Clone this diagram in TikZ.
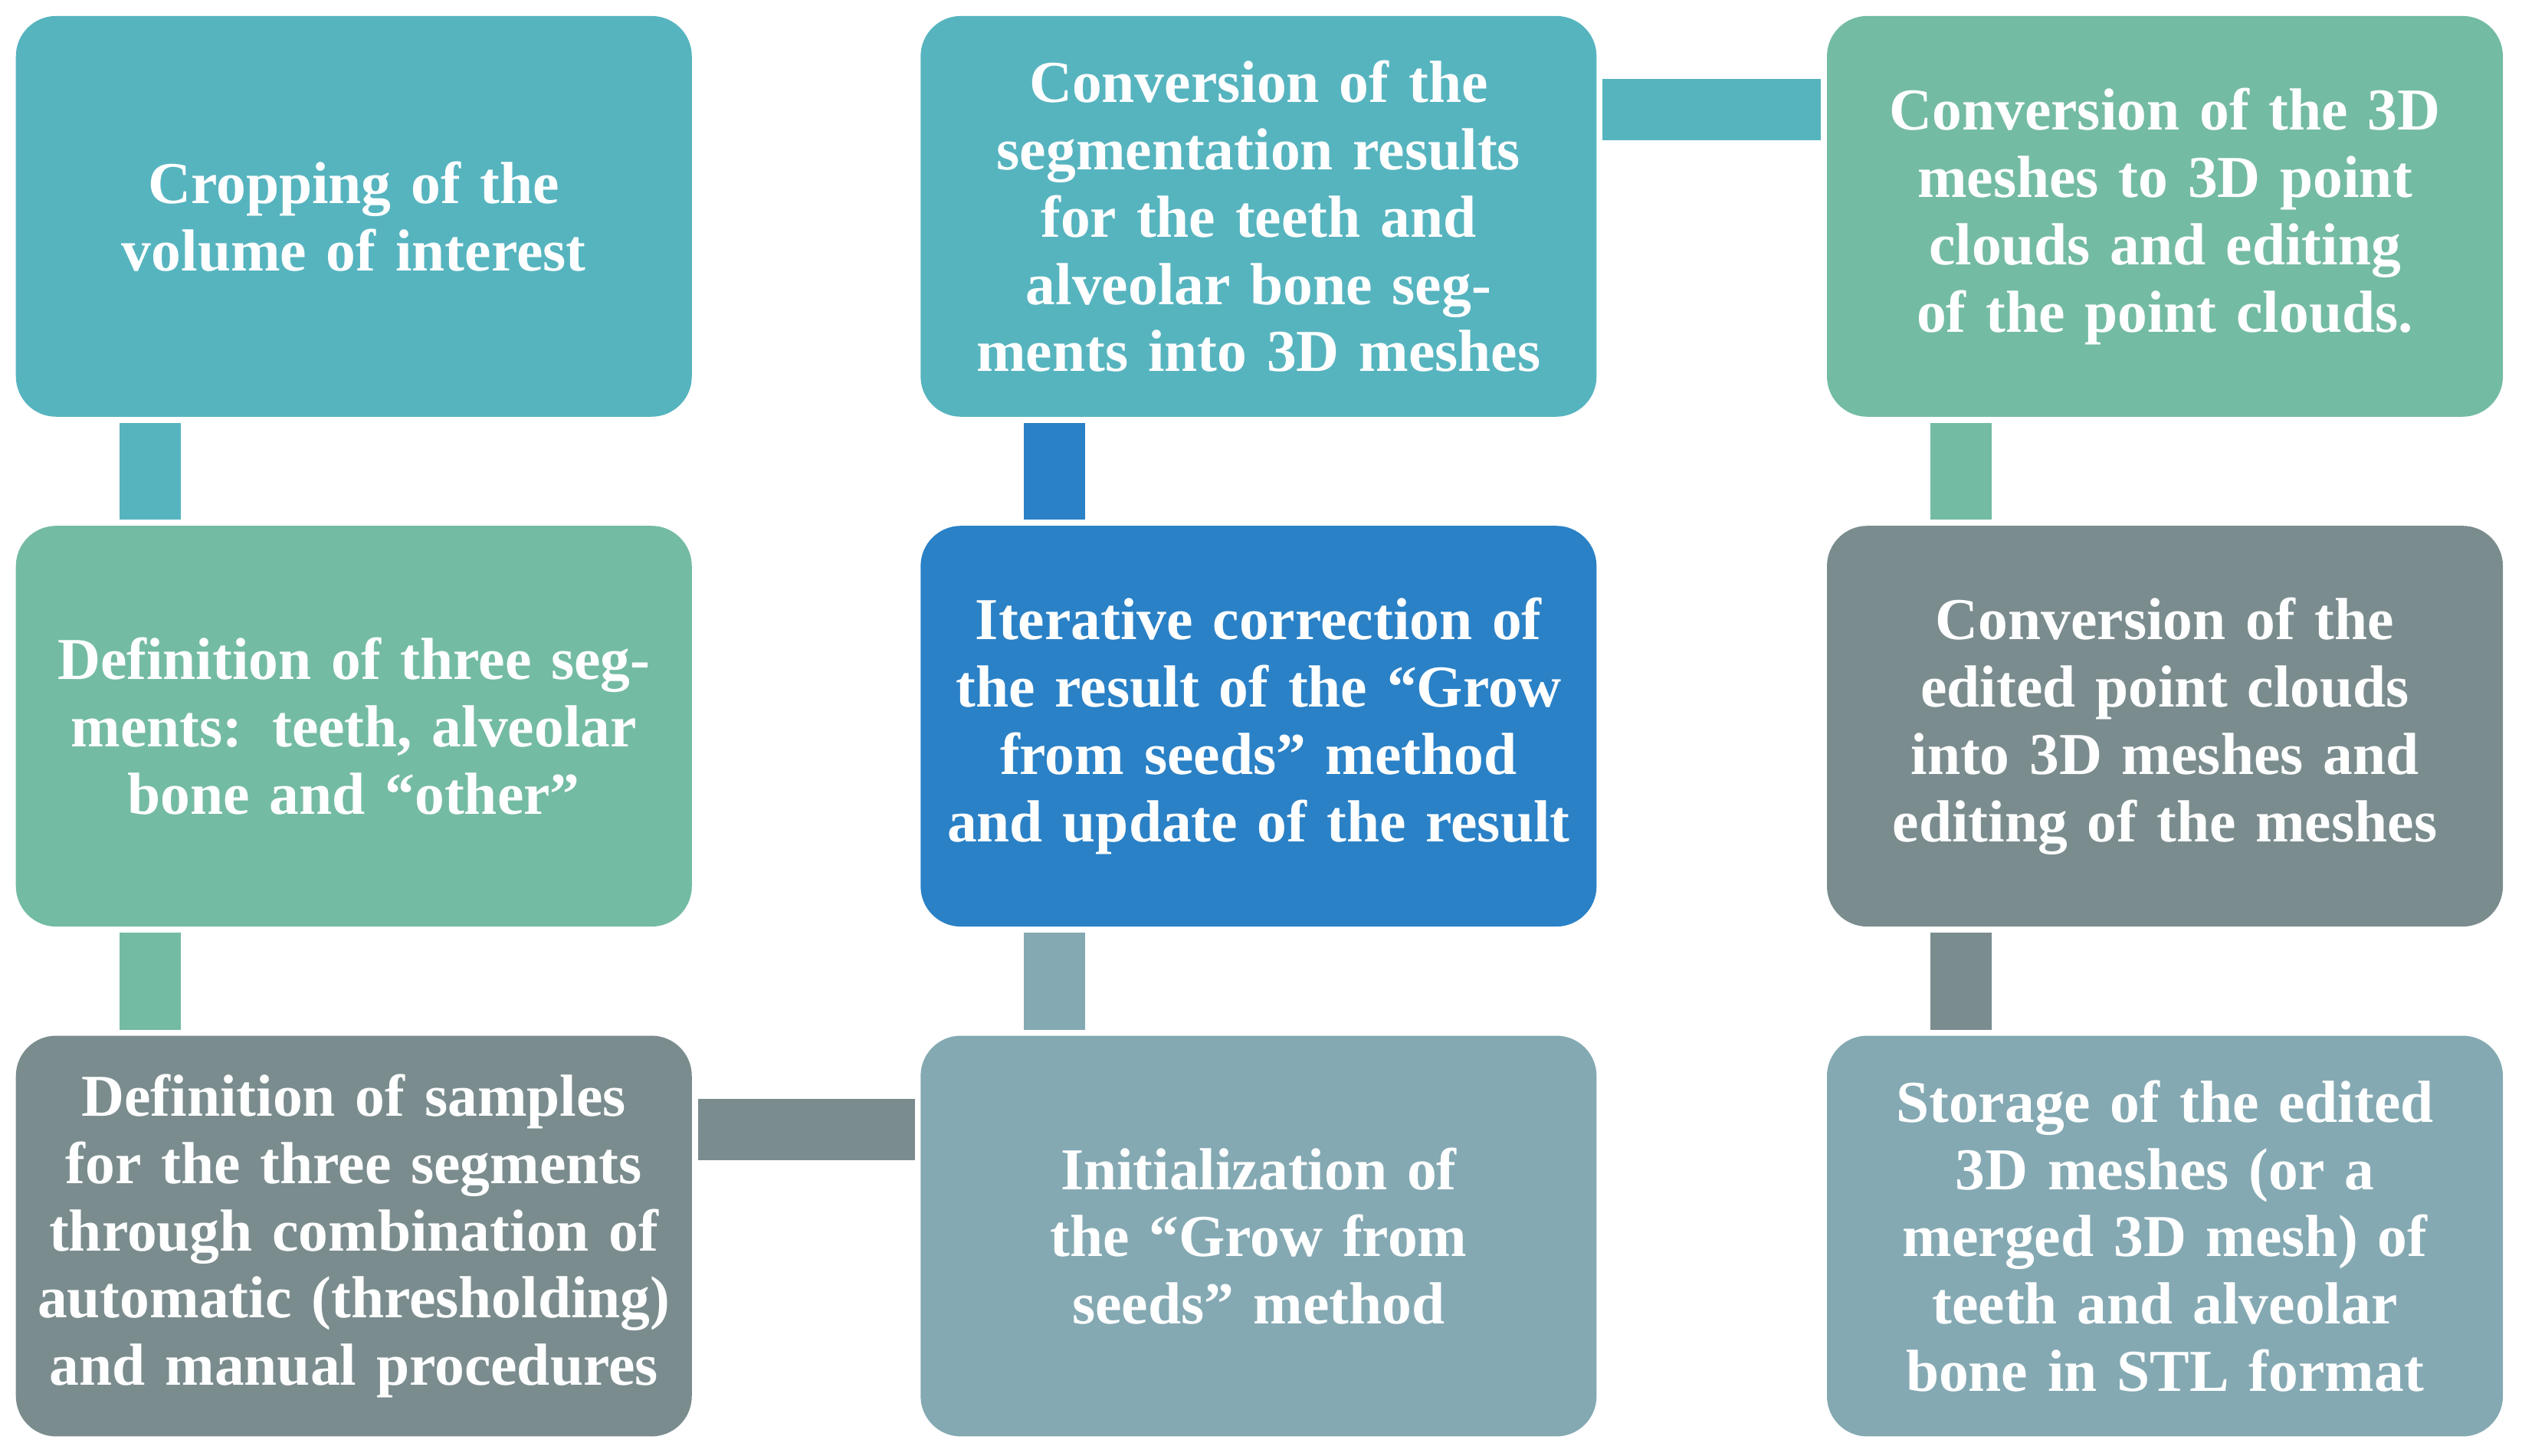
\documentclass[tikz,border=0pt]{standalone}
\usepackage{fontspec}
\setmainfont{Liberation Serif}
\begin{document}
\begin{tikzpicture}[x=0.01cm,y=-0.01cm,
  box/.style={rounded corners=0.25cm,minimum width=4.2cm,minimum height=2.49cm,text width=3.95cm,align=center,text=white,font=\fontsize{10.5}{11.9}\selectfont\bfseries,inner sep=0pt},
  bar/.style={line width=0.38cm}]
\definecolor{cteal}{HTML}{56B4BF}
\definecolor{cgreen}{HTML}{74BBA4}
\definecolor{cgray}{HTML}{7A8C8E}
\definecolor{clight}{HTML}{84A9B3}
\definecolor{cblue}{HTML}{2A81C6}
\useasboundingbox (0,0) rectangle (1568,905);
\node[box,fill=cteal] (a1) at (220,134.5) {Cropping of the volume of interest};
\node[box,fill=cgreen] (a2) at (220,451.5) {Definition of three segments: teeth, alveolar bone and “other”};
\node[box,fill=cgray] (a3) at (220,768.5) {Definition of samples for the three segments through combination of automatic (thresholding) and manual procedures};
\node[box,fill=cteal] (b1) at (782.5,134.5) {Conversion of the segmentation results for the teeth and alveolar bone segments into 3D meshes};
\node[box,fill=cblue] (b2) at (782.5,451.5) {Iterative correction of the result of the “Grow from seeds” method and update of the result};
\node[box,fill=clight] (b3) at (782.5,768.5) {Initialization of the “Grow from seeds” method};
\node[box,fill=cgreen] (c1) at (1346,134.5) {Conversion of the 3D meshes to 3D point clouds and editing of the point clouds.};
\node[box,fill=cgray] (c2) at (1346,451.5) {Conversion of the edited point clouds into 3D meshes and editing of the meshes};
\node[box,fill=clight] (c3) at (1346,768.5) {Storage of the edited 3D meshes (or a merged 3D mesh) of teeth and alveolar bone in STL format};
\draw[bar,cteal] ([xshift=0.84cm,yshift=-0.03cm]a1.south west) -- ([xshift=0.84cm,yshift=0.03cm]a2.north west);
\draw[bar,cgreen] ([xshift=0.84cm,yshift=-0.03cm]a2.south west) -- ([xshift=0.84cm,yshift=0.03cm]a3.north west);
\draw[bar,cblue] ([xshift=0.84cm,yshift=-0.03cm]b1.south west) -- ([xshift=0.84cm,yshift=0.03cm]b2.north west);
\draw[bar,clight] ([xshift=0.84cm,yshift=-0.03cm]b2.south west) -- ([xshift=0.84cm,yshift=0.03cm]b3.north west);
\draw[bar,cgreen] ([xshift=0.84cm,yshift=-0.03cm]c1.south west) -- ([xshift=0.84cm,yshift=0.03cm]c2.north west);
\draw[bar,cgray] ([xshift=0.84cm,yshift=-0.03cm]c2.south west) -- ([xshift=0.84cm,yshift=0.03cm]c3.north west);
\draw[bar,cteal] ([xshift=0.03cm,yshift=-0.59cm]b1.north east) -- ([xshift=-0.03cm,yshift=-0.59cm]c1.north west);
\draw[bar,cgray] ([xshift=0.03cm,yshift=-0.59cm]a3.north east) -- ([xshift=-0.03cm,yshift=-0.59cm]b3.north west);
\end{tikzpicture}
\end{document}
